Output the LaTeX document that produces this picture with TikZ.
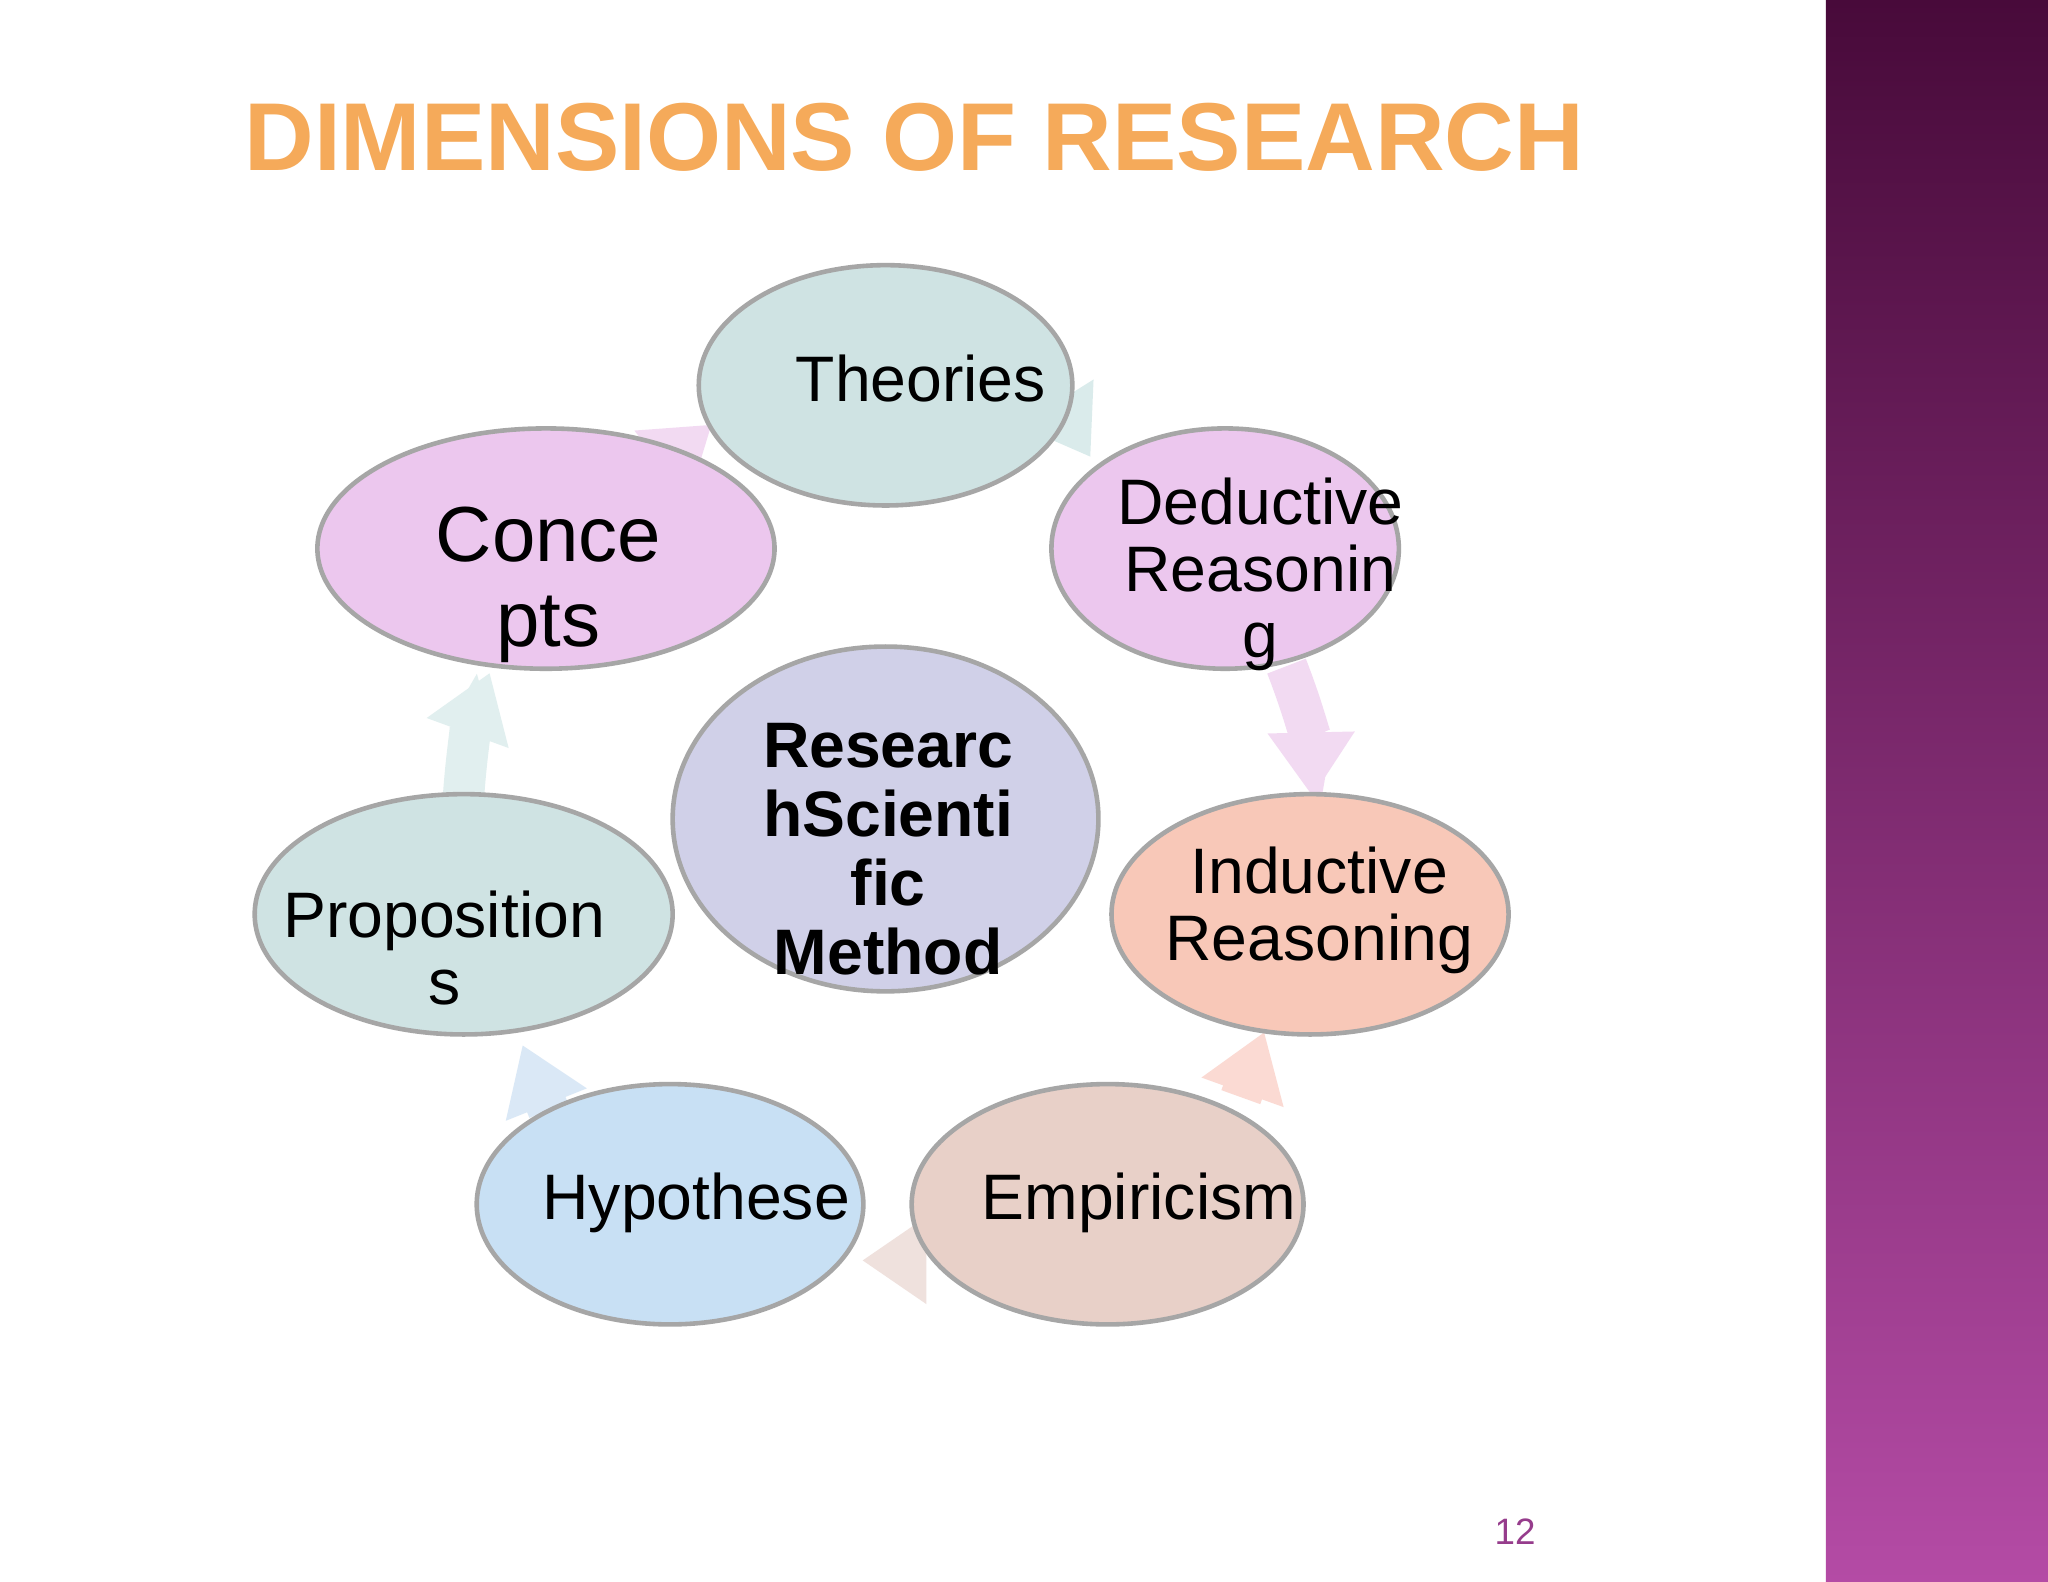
\documentclass[tikz,border=0pt]{standalone}
\usepackage{fontspec}
\setmainfont{Liberation Sans}
\usetikzlibrary{arrows.meta}
\begin{document}
\begin{tikzpicture}[x=0.01cm,y=-0.01cm,
 ell/.style={draw=gray!70,line width=1pt},
 lbl/.style={align=center,font=\fontsize{14}{14.5}\selectfont,inner sep=0pt},
 arr/.style={line width=9pt,-{Triangle[length=14pt,width=18pt]}}]
\useasboundingbox (0,0) rectangle (1568,1211);
\fill[white] (0,0) rectangle (1568,1211);
\shade[top color={rgb,255:red,72;green,10;blue,58},bottom color={rgb,255:red,180;green,75;blue,165}] (1398,0) rectangle (1568,1211);
\node[inner sep=0pt,text={rgb,255:red,245;green,170;blue,90},font=\fontsize{21}{21}\bfseries\selectfont] (title) at (700,105) {DIMENSIONS OF RESEARCH};
% faint arrows
\begin{scope}[transparency group,opacity=0.35]
\draw[arr,color={rgb,255:red,150;green,200;blue,200}] (815,318) -- (835,350);
\draw[arr,color={rgb,255:red,220;green,150;blue,220}] (985,510) to[bend left=10] (1005,610);
\draw[arr,color={rgb,255:red,245;green,150;blue,130}] (950,840) -- (968,790);
\draw[arr,color={rgb,255:red,210;green,170;blue,160}] (700,965) -- (660,965);
\draw[arr,color={rgb,255:red,150;green,190;blue,230}] (420,850) -- (400,800);
\draw[arr,color={rgb,255:red,170;green,210;blue,210}] (355,608) to[bend left=8] (375,515);
\draw[arr,color={rgb,255:red,220;green,150;blue,220}] (520,345) -- (545,325);
\end{scope}
% ellipses
\filldraw[ell,fill={rgb,255:red,207;green,227;blue,227}] (678,295) ellipse [x radius=143,y radius=92];
\filldraw[ell,fill={rgb,255:red,236;green,199;blue,238}] (938,420) ellipse [x radius=133,y radius=92];
\filldraw[ell,fill={rgb,255:red,248;green,200;blue,184}] (1003,700) ellipse [x radius=152,y radius=92];
\filldraw[ell,fill={rgb,255:red,232;green,208;blue,200}] (848,922) ellipse [x radius=150,y radius=92];
\filldraw[ell,fill={rgb,255:red,200;green,224;blue,244}] (513,922) ellipse [x radius=148,y radius=92];
\filldraw[ell,fill={rgb,255:red,207;green,227;blue,227}] (355,700) ellipse [x radius=160,y radius=92];
\filldraw[ell,fill={rgb,255:red,236;green,199;blue,238}] (418,420) ellipse [x radius=175,y radius=92];
\filldraw[ell,fill={rgb,255:red,208;green,208;blue,232}] (678,627) ellipse [x radius=163,y radius=132];
% labels
\node[lbl] (theo) at (705,290) {Theories};
\node[lbl] (ded) at (965,440) {Deductive\\Reasonin\\g};
\node[lbl,font=\fontsize{17}{18.5}\selectfont] (con) at (420,448) {Conce\\pts};
\node[lbl] (ind) at (1010,697) {Inductive\\Reasoning};
\node[lbl] (emp) at (872,921) {Empiricism};
\node[lbl] (prop) at (340,726) {Proposition\\s};
\node[lbl] (hyp) at (533,921) {Hypothese};
\node[lbl,font=\fontsize{14}{15}\bfseries\selectfont] (cen) at (680,650) {Researc\\hScienti\\fic\\Method};
\node[inner sep=0pt,font=\fontsize{8}{8}\selectfont,text={rgb,255:red,150;green,60;blue,140}] (pg) at (1160,1173) {12};
\end{tikzpicture}
\end{document}
